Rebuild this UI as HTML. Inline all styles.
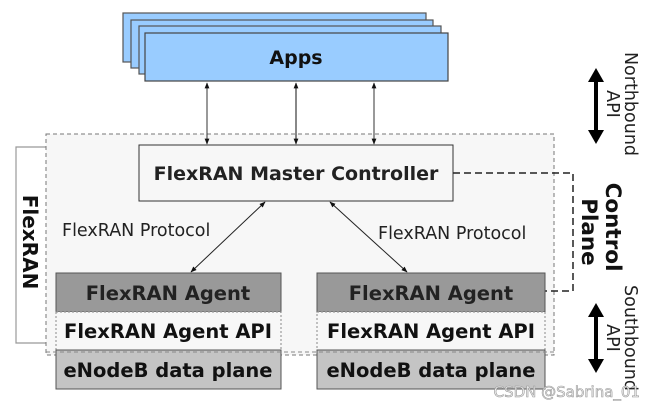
<!DOCTYPE html>
<html><head><meta charset="utf-8"><style>
html,body{margin:0;padding:0;background:#fff;width:656px;height:408px;overflow:hidden}
text{font-family:"DejaVu Sans","Liberation Sans",sans-serif}
</style></head><body>
<svg width="656" height="408" viewBox="0 0 656 408" xmlns="http://www.w3.org/2000/svg">
<defs>
<marker id="a" viewBox="0 0 10 10" refX="9" refY="5" markerWidth="6" markerHeight="6" orient="auto-start-reverse"><path d="M0,1 L10,5 L0,9 z" fill="#111"/></marker>
</defs>
<rect x="123" y="13" width="303" height="49" fill="#99ccff" stroke="#555" stroke-width="1.2"/>
<rect x="131" y="20" width="302" height="48" fill="#99ccff" stroke="#555" stroke-width="1.2"/>
<rect x="139" y="26" width="302" height="48" fill="#99ccff" stroke="#555" stroke-width="1.2"/>
<rect x="145" y="33" width="303" height="48" fill="#99ccff" stroke="#444" stroke-width="1.2"/>
<text x="296" y="64" text-anchor="middle" font-size="19" font-weight="bold" fill="#111">Apps</text>
<path d="M46,147 H16 V343 H46" fill="none" stroke="#999" stroke-width="1.2"/>
<text transform="translate(23,242) rotate(90)" text-anchor="middle" font-size="20" font-weight="bold" fill="#111">FlexRAN</text>
<rect x="46" y="134" width="508" height="221" fill="#f7f7f7" stroke="#777" stroke-width="1" stroke-dasharray="4,3"/>
<line x1="207" y1="83" x2="207" y2="144" stroke="#333" marker-start="url(#a)" marker-end="url(#a)"/>
<line x1="296" y1="83" x2="296" y2="144" stroke="#111" marker-start="url(#a)" marker-end="url(#a)"/>
<line x1="374" y1="83" x2="374" y2="144" stroke="#333" marker-start="url(#a)" marker-end="url(#a)"/>
<rect x="139" y="145" width="314" height="56" fill="#f7f7f7" stroke="#333" stroke-width="1"/>
<text x="296" y="180" text-anchor="middle" font-size="19" font-weight="bold" fill="#222">FlexRAN Master Controller</text>
<path d="M453,173 H573 V291 H545" fill="none" stroke="#222" stroke-width="1.5" stroke-dasharray="7,4"/>
<text transform="translate(606,227) rotate(90)" text-anchor="middle" font-size="21.5" font-weight="bold" fill="#111">Control</text>
<text transform="translate(582,232) rotate(90)" text-anchor="middle" font-size="21.5" font-weight="bold" fill="#111">Plane</text>
<line x1="265" y1="202" x2="191" y2="272" stroke="#222" marker-start="url(#a)" marker-end="url(#a)"/>
<line x1="330" y1="202" x2="407" y2="272" stroke="#222" marker-start="url(#a)" marker-end="url(#a)"/>
<text x="62" y="236" font-size="17.5" fill="#222">FlexRAN Protocol</text>
<text x="378" y="239" font-size="17.5" fill="#222">FlexRAN Protocol</text>
<g>
<rect x="56" y="273" width="225" height="39" fill="#999" stroke="#555"/>
<rect x="56" y="312" width="225" height="38" fill="#f7f7f7" stroke="#888" stroke-dasharray="2,2"/>
<rect x="56" y="350" width="225" height="39" fill="#c4c4c4" stroke="#555"/>
<text x="168" y="300" text-anchor="middle" font-size="19.5" font-weight="bold" fill="#222">FlexRAN Agent</text>
<text x="168" y="338" text-anchor="middle" font-size="19.5" font-weight="bold" fill="#111">FlexRAN Agent API</text>
<text x="168" y="377" text-anchor="middle" font-size="19.5" font-weight="bold" fill="#111">eNodeB data plane</text>
</g>
<g>
<rect x="317" y="273" width="228" height="39" fill="#999" stroke="#555"/>
<rect x="317" y="312" width="228" height="38" fill="#f7f7f7" stroke="#888" stroke-dasharray="2,2"/>
<rect x="317" y="350" width="228" height="39" fill="#c4c4c4" stroke="#555"/>
<text x="431" y="300" text-anchor="middle" font-size="19.5" font-weight="bold" fill="#222">FlexRAN Agent</text>
<text x="431" y="338" text-anchor="middle" font-size="19.5" font-weight="bold" fill="#111">FlexRAN Agent API</text>
<text x="431" y="377" text-anchor="middle" font-size="19.5" font-weight="bold" fill="#111">eNodeB data plane</text>
</g>
<line x1="46" y1="352" x2="554" y2="352" stroke="#888" stroke-dasharray="4,3"/>
<g fill="#000">
<rect x="594" y="80" width="4" height="52"/>
<path d="M588,82 L596,68 L604,82 z"/>
<path d="M588,130 L596,144 L604,130 z"/>
<rect x="594" y="315" width="4" height="46"/>
<path d="M588,317 L596,303 L604,317 z"/>
<path d="M588,359 L596,373 L604,359 z"/>
</g>
<text transform="translate(625,104) rotate(90)" text-anchor="middle" font-size="17.5" fill="#222">Northbound</text>
<text transform="translate(607,104) rotate(90)" text-anchor="middle" font-size="17.5" fill="#222">API</text>
<text transform="translate(625,338) rotate(90)" text-anchor="middle" font-size="17.5" fill="#222">Southbound</text>
<text transform="translate(607,338) rotate(90)" text-anchor="middle" font-size="17.5" fill="#222">API</text>
<text x="640" y="397" text-anchor="end" font-size="15" fill="#eee" stroke="#999" stroke-width="0.6" font-family="Liberation Sans">CSDN @Sabrina_01</text>
</svg>
</body></html>
